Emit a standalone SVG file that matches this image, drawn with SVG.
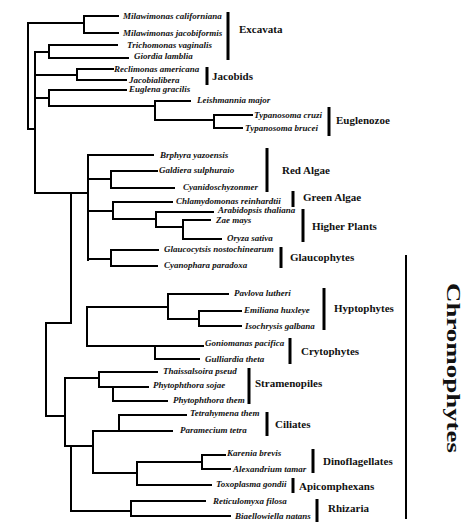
<svg xmlns="http://www.w3.org/2000/svg" width="474" height="532" viewBox="0 0 474 532">
<style>
.sp{font-family:"Liberation Serif","Times New Roman",serif;font-weight:bold;font-style:italic;font-size:9px;fill:#111}
.gr{font-family:"Liberation Serif","Times New Roman",serif;font-weight:bold;font-size:11px;fill:#111}
.tr{fill:none;stroke:#000;stroke-width:2;stroke-linecap:square}
.bar{stroke:#000;stroke-width:3}
</style>
<rect width="474" height="532" fill="#fff"/>
<g id="connectors" class="tr">
<path d="M28,23H84M84,16V33M84,16H118M84,33H118"/>
<path d="M28,23V129H35M35,52V193"/>
<path d="M35,52H49M49,45V58M49,45H117M49,58H128"/>
<path d="M35,75H77M77,69V80M77,69H113M77,80H126"/>
<path d="M35,98H49M49,90V106M49,90H126M49,106H155M155,101V120M155,101H190M155,120H214M214,115V128M214,115H252M214,128H242"/>
<path d="M35,193H88M88,155V260M88,155H153"/>
<path d="M88,179H111M111,171V188M111,171H157M111,188H174"/>
<path d="M88,211H113M113,202V219M113,202H172M113,219H156M156,212V227M156,212H213M156,227H183M183,220V239M183,220H210M183,239H221"/>
<path d="M88,259H111M111,250V266M111,250H158M111,266H157"/>
<path d="M71,193V323M46,323H71M46,323V416"/>
<path d="M87,307V346M87,307H168M168,294V319M168,294H228M168,319H199M199,311V326M199,311H241M199,326H241"/>
<path d="M87,346H203M155,346V359M155,359H199"/>
<path d="M46,416H65M65,378V446M65,378H99M99,372V387M99,372H157M99,387H148M113,387V401M113,401H167"/>
<path d="M65,446H93M93,431V473M93,431H172M119,415V431M119,415H186"/>
<path d="M93,473H137M137,462V485M137,462H202M202,455V469M202,455H225M202,469H230M137,485H211"/>
<path d="M71,446V511M71,511H131M131,501V516M131,501H205M131,516H230"/>
</g>
<g id="leaf-milawimonas-californiana"><text class="sp" x="123" y="19">Milawimonas californiana</text></g>
<g id="leaf-milawimonas-jacobiformis"><text class="sp" x="123" y="36">Milawimonas jacobiformis</text></g>
<g id="leaf-trichomonas"><text class="sp" x="127" y="48">Trichomonas vaginalis</text></g>
<g id="leaf-giordia"><text class="sp" x="134" y="59">Giordia lamblia</text></g>
<g id="leaf-reclimonas"><text class="sp" x="114" y="72">Reclimonas americana</text></g>
<g id="leaf-jacobialibera"><text class="sp" x="129" y="83">Jacobialibera</text></g>
<g id="leaf-euglena"><text class="sp" x="129" y="92">Euglena gracilis</text></g>
<g id="leaf-leishmannia"><text class="sp" x="197" y="103">Leishmannia major</text></g>
<g id="leaf-typanosoma-cruzi"><text class="sp" x="254" y="118">Typanosoma cruzi</text></g>
<g id="leaf-typanosoma-brucei"><text class="sp" x="245" y="131">Typanosoma brucei</text></g>
<g id="leaf-brphyra"><text class="sp" x="160" y="158">Brphyra yazoensis</text></g>
<g id="leaf-galdiera"><text class="sp" x="159" y="173">Galdiera sulphuraio</text></g>
<g id="leaf-cyanidoschyzon"><text class="sp" x="183" y="190">Cyanidoschyzonmer</text></g>
<g id="leaf-chlamydomonas"><text class="sp" x="176" y="204">Chlamydomonas reinhardtii</text></g>
<g id="leaf-arabidopsis"><text class="sp" x="218" y="213">Arabidopsis thaliana</text></g>
<g id="leaf-zae"><text class="sp" x="216" y="223">Zae mays</text></g>
<g id="leaf-oryza"><text class="sp" x="227" y="241">Oryza sativa</text></g>
<g id="leaf-glaucocytsis"><text class="sp" x="164" y="252">Glaucocytsis nostochinearum</text></g>
<g id="leaf-cyanophara"><text class="sp" x="164" y="268">Cyanophara paradoxa</text></g>
<g id="leaf-pavlova"><text class="sp" x="234" y="296">Pavlova lutheri</text></g>
<g id="leaf-emiliana"><text class="sp" x="244" y="313">Emiliana huxleye</text></g>
<g id="leaf-isochrysis"><text class="sp" x="245" y="329">Isochrysis galbana</text></g>
<g id="leaf-goniomanas"><text class="sp" x="205" y="346">Goniomanas pacifica</text></g>
<g id="leaf-gulliardia"><text class="sp" x="205" y="362">Gulliardia theta</text></g>
<g id="leaf-thaissalsoira"><text class="sp" x="163" y="374">Thaissalsoira pseud</text></g>
<g id="leaf-phytophthora-sojae"><text class="sp" x="153" y="388">Phytophthora sojae</text></g>
<g id="leaf-phytophthora-them"><text class="sp" x="173" y="403">Phytophthora them</text></g>
<g id="leaf-tetrahymena"><text class="sp" x="190" y="416">Tetrahymena them</text></g>
<g id="leaf-paramecium"><text class="sp" x="180" y="433">Paramecium tetra</text></g>
<g id="leaf-karenia"><text class="sp" x="227" y="456">Karenia brevis</text></g>
<g id="leaf-alexandrium"><text class="sp" x="233" y="472">Alexandrium tamar</text></g>
<g id="leaf-toxoplasma"><text class="sp" x="216" y="487">Toxoplasma gondii</text></g>
<g id="leaf-reticulomyxa"><text class="sp" x="213" y="504">Reticulomyxa filosa</text></g>
<g id="leaf-biaellowiella"><text class="sp" x="235" y="519">Biaellowiella natans</text></g>
<g id="clade-excavata"><line class="bar" x1="228" y1="12" x2="228" y2="60"/><text class="gr" x="239" y="33">Excavata</text></g>
<g id="clade-jacobids"><line class="bar" x1="207" y1="67" x2="207" y2="85"/><text class="gr" x="212" y="80">Jacobids</text></g>
<g id="clade-euglenozoe"><line class="bar" x1="329" y1="107" x2="329" y2="136"/><text class="gr" x="336" y="124">Euglenozoe</text></g>
<g id="clade-red-algae"><line class="bar" x1="267" y1="148" x2="267" y2="192"/><text class="gr" x="282" y="174">Red Algae</text></g>
<g id="clade-green-algae"><line class="bar" x1="293" y1="191" x2="293" y2="207"/><text class="gr" x="303" y="201">Green Algae</text></g>
<g id="clade-higher-plants"><line class="bar" x1="303" y1="209" x2="303" y2="242"/><text class="gr" x="312" y="230">Higher Plants</text></g>
<g id="clade-glaucophytes"><line class="bar" x1="281" y1="247" x2="281" y2="268"/><text class="gr" x="290" y="261">Glaucophytes</text></g>
<g id="clade-hyptophytes"><line class="bar" x1="324" y1="288" x2="324" y2="330"/><text class="gr" x="334" y="312">Hyptophytes</text></g>
<g id="clade-crytophytes"><line class="bar" x1="290" y1="338" x2="290" y2="364"/><text class="gr" x="301" y="355">Crytophytes</text></g>
<g id="clade-stramenopiles"><line class="bar" x1="249" y1="368" x2="249" y2="404"/><text class="gr" x="255" y="387">Stramenopiles</text></g>
<g id="clade-ciliates"><line class="bar" x1="267" y1="412" x2="267" y2="436"/><text class="gr" x="275" y="428">Ciliates</text></g>
<g id="clade-dinoflagellates"><line class="bar" x1="313" y1="449" x2="313" y2="473"/><text class="gr" x="323" y="465">Dinoflagellates</text></g>
<g id="clade-apicomphexans"><line class="bar" x1="293" y1="478" x2="293" y2="493"/><text class="gr" x="299" y="490">Apicomphexans</text></g>
<g id="clade-rhizaria"><line class="bar" x1="317" y1="499" x2="317" y2="522"/><text class="gr" x="328" y="512">Rhizaria</text></g>
<g id="clade-chromophytes"><line x1="406" y1="255" x2="406" y2="519" stroke="#000" stroke-width="2"/><text class="gr" transform="translate(447,283) rotate(90)" style="font-size:18px" textLength="170" lengthAdjust="spacingAndGlyphs">Chromophytes</text></g>
</svg>
